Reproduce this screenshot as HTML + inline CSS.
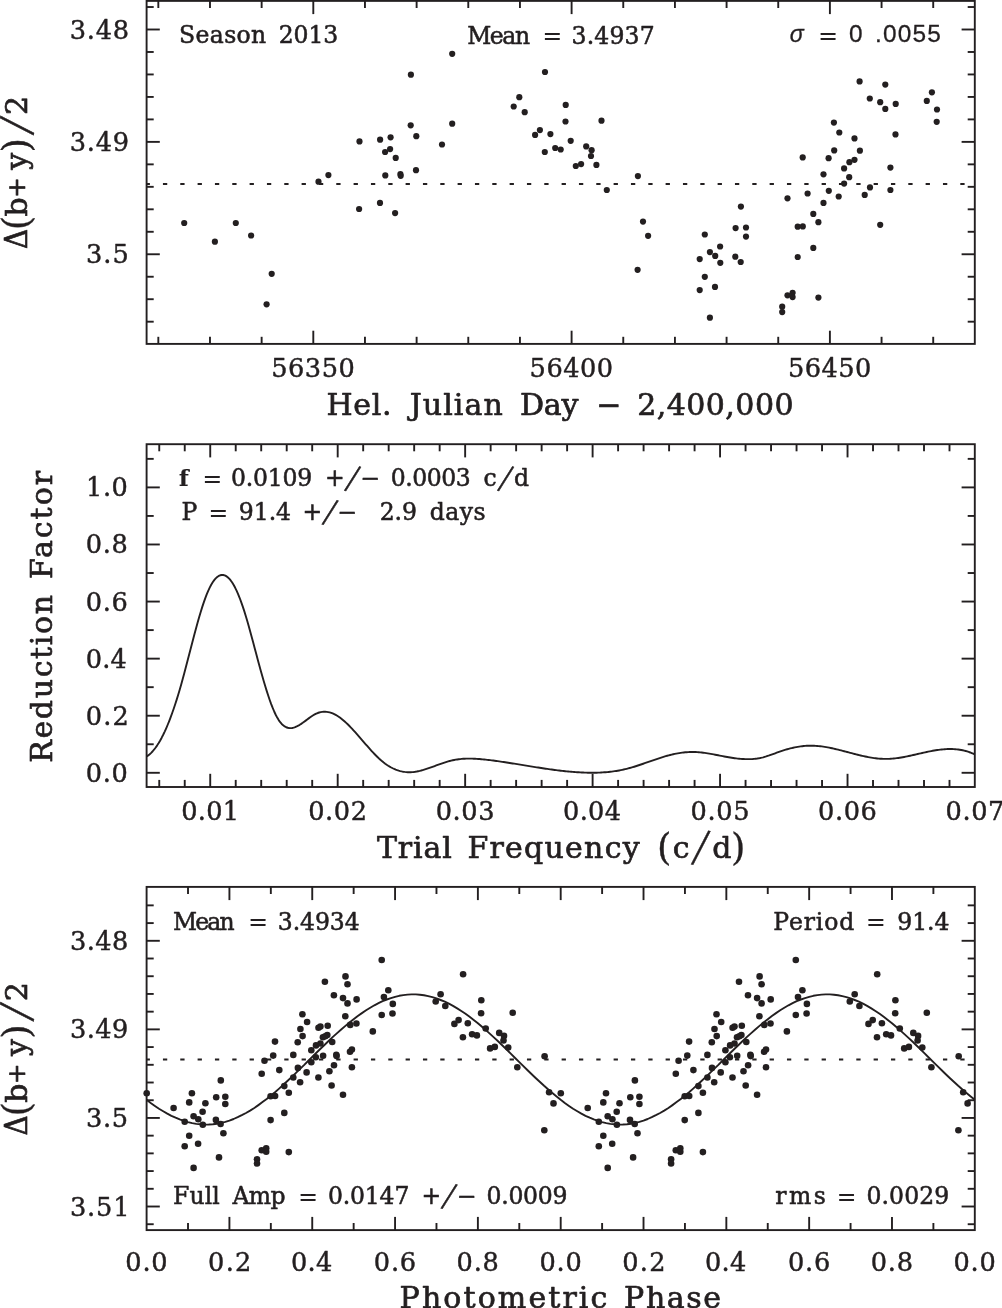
<!DOCTYPE html>
<html lang="en"><head><meta charset="utf-8"><title>Photometry</title>
<style>
html,body{margin:0;padding:0;background:#fff;overflow:hidden;}
svg{display:block;}
</style></head>
<body>
<svg width="1002" height="1308" viewBox="0 0 1002 1308">
<rect width="1002" height="1308" fill="#fff"/>
<g stroke="#231f20" fill="#231f20" stroke-linecap="butt">
<g stroke="none">
<circle cx="184.2" cy="223.0" r="3.1"/>
<circle cx="214.9" cy="241.7" r="3.1"/>
<circle cx="235.8" cy="223.0" r="3.1"/>
<circle cx="251.1" cy="235.5" r="3.1"/>
<circle cx="271.7" cy="273.8" r="3.1"/>
<circle cx="266.6" cy="304.3" r="3.1"/>
<circle cx="318.5" cy="181.7" r="3.1"/>
<circle cx="328.4" cy="175.1" r="3.1"/>
<circle cx="359.5" cy="141.4" r="3.1"/>
<circle cx="359.1" cy="209.0" r="3.1"/>
<circle cx="380.1" cy="139.7" r="3.1"/>
<circle cx="380.0" cy="202.9" r="3.1"/>
<circle cx="385.1" cy="152.0" r="3.1"/>
<circle cx="385.3" cy="175.4" r="3.1"/>
<circle cx="390.6" cy="137.3" r="3.1"/>
<circle cx="390.1" cy="149.1" r="3.1"/>
<circle cx="395.7" cy="157.9" r="3.1"/>
<circle cx="400.4" cy="174.0" r="3.1"/>
<circle cx="400.7" cy="175.8" r="3.1"/>
<circle cx="395.1" cy="213.1" r="3.1"/>
<circle cx="416.0" cy="170.2" r="3.1"/>
<circle cx="410.7" cy="125.3" r="3.1"/>
<circle cx="416.3" cy="136.2" r="3.1"/>
<circle cx="410.9" cy="74.7" r="3.1"/>
<circle cx="442.0" cy="144.5" r="3.1"/>
<circle cx="452.2" cy="123.7" r="3.1"/>
<circle cx="452.2" cy="53.8" r="3.1"/>
<circle cx="513.7" cy="106.5" r="3.1"/>
<circle cx="519.3" cy="97.2" r="3.1"/>
<circle cx="524.7" cy="112.2" r="3.1"/>
<circle cx="535.1" cy="134.9" r="3.1"/>
<circle cx="539.9" cy="130.1" r="3.1"/>
<circle cx="545.0" cy="72.0" r="3.1"/>
<circle cx="544.8" cy="152.0" r="3.1"/>
<circle cx="550.4" cy="134.1" r="3.1"/>
<circle cx="555.2" cy="148.0" r="3.1"/>
<circle cx="560.7" cy="149.5" r="3.1"/>
<circle cx="565.7" cy="104.9" r="3.1"/>
<circle cx="565.5" cy="121.5" r="3.1"/>
<circle cx="570.7" cy="140.8" r="3.1"/>
<circle cx="575.8" cy="166.0" r="3.1"/>
<circle cx="581.1" cy="164.1" r="3.1"/>
<circle cx="586.2" cy="146.4" r="3.1"/>
<circle cx="591.6" cy="150.2" r="3.1"/>
<circle cx="591.0" cy="156.0" r="3.1"/>
<circle cx="596.4" cy="164.9" r="3.1"/>
<circle cx="601.5" cy="120.7" r="3.1"/>
<circle cx="606.8" cy="190.0" r="3.1"/>
<circle cx="637.9" cy="176.1" r="3.1"/>
<circle cx="643.0" cy="221.6" r="3.1"/>
<circle cx="648.1" cy="235.8" r="3.1"/>
<circle cx="637.6" cy="269.8" r="3.1"/>
<circle cx="699.7" cy="259.1" r="3.1"/>
<circle cx="699.7" cy="290.1" r="3.1"/>
<circle cx="704.8" cy="234.5" r="3.1"/>
<circle cx="704.8" cy="276.8" r="3.1"/>
<circle cx="709.9" cy="252.1" r="3.1"/>
<circle cx="709.9" cy="317.7" r="3.1"/>
<circle cx="715.2" cy="255.9" r="3.1"/>
<circle cx="715.0" cy="286.9" r="3.1"/>
<circle cx="720.1" cy="246.5" r="3.1"/>
<circle cx="720.3" cy="262.8" r="3.1"/>
<circle cx="735.6" cy="228.1" r="3.1"/>
<circle cx="735.3" cy="256.7" r="3.1"/>
<circle cx="740.9" cy="206.6" r="3.1"/>
<circle cx="740.7" cy="262.0" r="3.1"/>
<circle cx="746.0" cy="227.5" r="3.1"/>
<circle cx="746.0" cy="236.6" r="3.1"/>
<circle cx="782.2" cy="306.7" r="3.1"/>
<circle cx="782.2" cy="312.1" r="3.1"/>
<circle cx="787.5" cy="198.3" r="3.1"/>
<circle cx="787.5" cy="295.3" r="3.1"/>
<circle cx="792.6" cy="292.8" r="3.1"/>
<circle cx="792.6" cy="297.1" r="3.1"/>
<circle cx="797.7" cy="226.7" r="3.1"/>
<circle cx="797.7" cy="257.0" r="3.1"/>
<circle cx="802.8" cy="226.4" r="3.1"/>
<circle cx="802.7" cy="157.4" r="3.1"/>
<circle cx="807.6" cy="193.5" r="3.1"/>
<circle cx="813.3" cy="213.9" r="3.1"/>
<circle cx="813.3" cy="247.9" r="3.1"/>
<circle cx="818.4" cy="222.2" r="3.1"/>
<circle cx="818.4" cy="297.6" r="3.1"/>
<circle cx="823.5" cy="174.3" r="3.1"/>
<circle cx="823.5" cy="202.9" r="3.1"/>
<circle cx="828.6" cy="158.2" r="3.1"/>
<circle cx="828.8" cy="190.8" r="3.1"/>
<circle cx="833.9" cy="122.6" r="3.1"/>
<circle cx="834.2" cy="150.4" r="3.1"/>
<circle cx="839.3" cy="132.5" r="3.1"/>
<circle cx="838.7" cy="196.5" r="3.1"/>
<circle cx="844.1" cy="168.4" r="3.1"/>
<circle cx="844.1" cy="183.6" r="3.1"/>
<circle cx="849.4" cy="162.2" r="3.1"/>
<circle cx="849.2" cy="177.2" r="3.1"/>
<circle cx="854.5" cy="138.4" r="3.1"/>
<circle cx="854.5" cy="159.8" r="3.1"/>
<circle cx="859.6" cy="81.4" r="3.1"/>
<circle cx="859.9" cy="150.7" r="3.1"/>
<circle cx="864.7" cy="194.9" r="3.1"/>
<circle cx="869.8" cy="98.5" r="3.1"/>
<circle cx="870.0" cy="187.4" r="3.1"/>
<circle cx="880.2" cy="102.2" r="3.1"/>
<circle cx="880.2" cy="224.8" r="3.1"/>
<circle cx="885.3" cy="84.6" r="3.1"/>
<circle cx="885.3" cy="108.9" r="3.1"/>
<circle cx="890.4" cy="167.6" r="3.1"/>
<circle cx="890.4" cy="190.0" r="3.1"/>
<circle cx="895.7" cy="103.9" r="3.1"/>
<circle cx="895.5" cy="134.4" r="3.1"/>
<circle cx="926.8" cy="100.9" r="3.1"/>
<circle cx="931.9" cy="92.3" r="3.1"/>
<circle cx="937.0" cy="109.5" r="3.1"/>
<circle cx="936.7" cy="121.8" r="3.1"/>
<circle cx="146.7" cy="1093.3" r="3.3000000000000003"/>
<circle cx="560.8" cy="1093.3" r="3.3000000000000003"/>
<circle cx="173.6" cy="1108.0" r="3.3000000000000003"/>
<circle cx="587.7" cy="1108.0" r="3.3000000000000003"/>
<circle cx="191.9" cy="1093.3" r="3.3000000000000003"/>
<circle cx="606.0" cy="1093.3" r="3.3000000000000003"/>
<circle cx="205.4" cy="1103.2" r="3.3000000000000003"/>
<circle cx="619.5" cy="1103.2" r="3.3000000000000003"/>
<circle cx="223.4" cy="1133.3" r="3.3000000000000003"/>
<circle cx="637.5" cy="1133.3" r="3.3000000000000003"/>
<circle cx="219.0" cy="1157.4" r="3.3000000000000003"/>
<circle cx="633.1" cy="1157.4" r="3.3000000000000003"/>
<circle cx="264.5" cy="1060.8" r="3.3000000000000003"/>
<circle cx="678.6" cy="1060.8" r="3.3000000000000003"/>
<circle cx="273.2" cy="1055.6" r="3.3000000000000003"/>
<circle cx="687.3" cy="1055.6" r="3.3000000000000003"/>
<circle cx="300.4" cy="1029.0" r="3.3000000000000003"/>
<circle cx="714.5" cy="1029.0" r="3.3000000000000003"/>
<circle cx="300.1" cy="1082.3" r="3.3000000000000003"/>
<circle cx="714.2" cy="1082.3" r="3.3000000000000003"/>
<circle cx="318.5" cy="1027.7" r="3.3000000000000003"/>
<circle cx="732.6" cy="1027.7" r="3.3000000000000003"/>
<circle cx="318.4" cy="1077.5" r="3.3000000000000003"/>
<circle cx="732.5" cy="1077.5" r="3.3000000000000003"/>
<circle cx="322.9" cy="1037.3" r="3.3000000000000003"/>
<circle cx="737.0" cy="1037.3" r="3.3000000000000003"/>
<circle cx="323.1" cy="1055.8" r="3.3000000000000003"/>
<circle cx="737.2" cy="1055.8" r="3.3000000000000003"/>
<circle cx="327.7" cy="1025.8" r="3.3000000000000003"/>
<circle cx="741.8" cy="1025.8" r="3.3000000000000003"/>
<circle cx="327.3" cy="1035.1" r="3.3000000000000003"/>
<circle cx="741.4" cy="1035.1" r="3.3000000000000003"/>
<circle cx="332.2" cy="1042.0" r="3.3000000000000003"/>
<circle cx="746.3" cy="1042.0" r="3.3000000000000003"/>
<circle cx="336.3" cy="1054.7" r="3.3000000000000003"/>
<circle cx="750.4" cy="1054.7" r="3.3000000000000003"/>
<circle cx="336.6" cy="1056.1" r="3.3000000000000003"/>
<circle cx="750.7" cy="1056.1" r="3.3000000000000003"/>
<circle cx="331.6" cy="1085.5" r="3.3000000000000003"/>
<circle cx="745.7" cy="1085.5" r="3.3000000000000003"/>
<circle cx="350.0" cy="1051.7" r="3.3000000000000003"/>
<circle cx="764.1" cy="1051.7" r="3.3000000000000003"/>
<circle cx="345.3" cy="1016.3" r="3.3000000000000003"/>
<circle cx="759.4" cy="1016.3" r="3.3000000000000003"/>
<circle cx="350.2" cy="1024.9" r="3.3000000000000003"/>
<circle cx="764.3" cy="1024.9" r="3.3000000000000003"/>
<circle cx="345.5" cy="976.4" r="3.3000000000000003"/>
<circle cx="759.6" cy="976.4" r="3.3000000000000003"/>
<circle cx="372.8" cy="1031.4" r="3.3000000000000003"/>
<circle cx="786.9" cy="1031.4" r="3.3000000000000003"/>
<circle cx="381.7" cy="1015.0" r="3.3000000000000003"/>
<circle cx="795.8" cy="1015.0" r="3.3000000000000003"/>
<circle cx="381.7" cy="960.0" r="3.3000000000000003"/>
<circle cx="795.8" cy="960.0" r="3.3000000000000003"/>
<circle cx="435.7" cy="1001.5" r="3.3000000000000003"/>
<circle cx="849.8" cy="1001.5" r="3.3000000000000003"/>
<circle cx="440.6" cy="994.2" r="3.3000000000000003"/>
<circle cx="854.7" cy="994.2" r="3.3000000000000003"/>
<circle cx="445.3" cy="1006.0" r="3.3000000000000003"/>
<circle cx="859.4" cy="1006.0" r="3.3000000000000003"/>
<circle cx="454.4" cy="1023.9" r="3.3000000000000003"/>
<circle cx="868.5" cy="1023.9" r="3.3000000000000003"/>
<circle cx="458.6" cy="1020.1" r="3.3000000000000003"/>
<circle cx="872.7" cy="1020.1" r="3.3000000000000003"/>
<circle cx="463.1" cy="974.3" r="3.3000000000000003"/>
<circle cx="877.2" cy="974.3" r="3.3000000000000003"/>
<circle cx="462.9" cy="1037.3" r="3.3000000000000003"/>
<circle cx="877.0" cy="1037.3" r="3.3000000000000003"/>
<circle cx="467.8" cy="1023.2" r="3.3000000000000003"/>
<circle cx="881.9" cy="1023.2" r="3.3000000000000003"/>
<circle cx="472.1" cy="1034.2" r="3.3000000000000003"/>
<circle cx="886.2" cy="1034.2" r="3.3000000000000003"/>
<circle cx="476.9" cy="1035.4" r="3.3000000000000003"/>
<circle cx="891.0" cy="1035.4" r="3.3000000000000003"/>
<circle cx="481.3" cy="1000.2" r="3.3000000000000003"/>
<circle cx="895.4" cy="1000.2" r="3.3000000000000003"/>
<circle cx="481.1" cy="1013.3" r="3.3000000000000003"/>
<circle cx="895.2" cy="1013.3" r="3.3000000000000003"/>
<circle cx="485.7" cy="1028.5" r="3.3000000000000003"/>
<circle cx="899.8" cy="1028.5" r="3.3000000000000003"/>
<circle cx="490.1" cy="1048.4" r="3.3000000000000003"/>
<circle cx="904.2" cy="1048.4" r="3.3000000000000003"/>
<circle cx="494.8" cy="1046.9" r="3.3000000000000003"/>
<circle cx="908.9" cy="1046.9" r="3.3000000000000003"/>
<circle cx="499.2" cy="1032.9" r="3.3000000000000003"/>
<circle cx="913.3" cy="1032.9" r="3.3000000000000003"/>
<circle cx="504.0" cy="1035.9" r="3.3000000000000003"/>
<circle cx="918.1" cy="1035.9" r="3.3000000000000003"/>
<circle cx="503.5" cy="1040.5" r="3.3000000000000003"/>
<circle cx="917.6" cy="1040.5" r="3.3000000000000003"/>
<circle cx="508.2" cy="1047.5" r="3.3000000000000003"/>
<circle cx="922.3" cy="1047.5" r="3.3000000000000003"/>
<circle cx="512.7" cy="1012.7" r="3.3000000000000003"/>
<circle cx="926.8" cy="1012.7" r="3.3000000000000003"/>
<circle cx="517.3" cy="1067.3" r="3.3000000000000003"/>
<circle cx="931.4" cy="1067.3" r="3.3000000000000003"/>
<circle cx="544.6" cy="1056.3" r="3.3000000000000003"/>
<circle cx="958.7" cy="1056.3" r="3.3000000000000003"/>
<circle cx="549.1" cy="1092.2" r="3.3000000000000003"/>
<circle cx="963.2" cy="1092.2" r="3.3000000000000003"/>
<circle cx="553.5" cy="1103.4" r="3.3000000000000003"/>
<circle cx="967.6" cy="1103.4" r="3.3000000000000003"/>
<circle cx="544.3" cy="1130.2" r="3.3000000000000003"/>
<circle cx="958.4" cy="1130.2" r="3.3000000000000003"/>
<circle cx="184.7" cy="1121.8" r="3.3000000000000003"/>
<circle cx="598.8" cy="1121.8" r="3.3000000000000003"/>
<circle cx="184.7" cy="1146.2" r="3.3000000000000003"/>
<circle cx="598.8" cy="1146.2" r="3.3000000000000003"/>
<circle cx="189.2" cy="1102.4" r="3.3000000000000003"/>
<circle cx="603.3" cy="1102.4" r="3.3000000000000003"/>
<circle cx="189.2" cy="1135.7" r="3.3000000000000003"/>
<circle cx="603.3" cy="1135.7" r="3.3000000000000003"/>
<circle cx="193.6" cy="1116.2" r="3.3000000000000003"/>
<circle cx="607.7" cy="1116.2" r="3.3000000000000003"/>
<circle cx="193.6" cy="1167.9" r="3.3000000000000003"/>
<circle cx="607.7" cy="1167.9" r="3.3000000000000003"/>
<circle cx="198.3" cy="1119.2" r="3.3000000000000003"/>
<circle cx="612.4" cy="1119.2" r="3.3000000000000003"/>
<circle cx="198.1" cy="1143.7" r="3.3000000000000003"/>
<circle cx="612.2" cy="1143.7" r="3.3000000000000003"/>
<circle cx="202.6" cy="1111.8" r="3.3000000000000003"/>
<circle cx="616.7" cy="1111.8" r="3.3000000000000003"/>
<circle cx="202.8" cy="1124.7" r="3.3000000000000003"/>
<circle cx="616.9" cy="1124.7" r="3.3000000000000003"/>
<circle cx="216.2" cy="1097.3" r="3.3000000000000003"/>
<circle cx="630.3" cy="1097.3" r="3.3000000000000003"/>
<circle cx="215.9" cy="1119.9" r="3.3000000000000003"/>
<circle cx="630.0" cy="1119.9" r="3.3000000000000003"/>
<circle cx="220.8" cy="1080.4" r="3.3000000000000003"/>
<circle cx="634.9" cy="1080.4" r="3.3000000000000003"/>
<circle cx="220.6" cy="1124.0" r="3.3000000000000003"/>
<circle cx="634.7" cy="1124.0" r="3.3000000000000003"/>
<circle cx="225.3" cy="1096.8" r="3.3000000000000003"/>
<circle cx="639.4" cy="1096.8" r="3.3000000000000003"/>
<circle cx="225.3" cy="1104.0" r="3.3000000000000003"/>
<circle cx="639.4" cy="1104.0" r="3.3000000000000003"/>
<circle cx="257.0" cy="1159.3" r="3.3000000000000003"/>
<circle cx="671.1" cy="1159.3" r="3.3000000000000003"/>
<circle cx="257.0" cy="1163.5" r="3.3000000000000003"/>
<circle cx="671.1" cy="1163.5" r="3.3000000000000003"/>
<circle cx="261.7" cy="1073.8" r="3.3000000000000003"/>
<circle cx="675.8" cy="1073.8" r="3.3000000000000003"/>
<circle cx="261.7" cy="1150.3" r="3.3000000000000003"/>
<circle cx="675.8" cy="1150.3" r="3.3000000000000003"/>
<circle cx="266.2" cy="1148.3" r="3.3000000000000003"/>
<circle cx="680.3" cy="1148.3" r="3.3000000000000003"/>
<circle cx="266.2" cy="1151.7" r="3.3000000000000003"/>
<circle cx="680.3" cy="1151.7" r="3.3000000000000003"/>
<circle cx="270.6" cy="1096.2" r="3.3000000000000003"/>
<circle cx="684.7" cy="1096.2" r="3.3000000000000003"/>
<circle cx="270.6" cy="1120.1" r="3.3000000000000003"/>
<circle cx="684.7" cy="1120.1" r="3.3000000000000003"/>
<circle cx="275.1" cy="1096.0" r="3.3000000000000003"/>
<circle cx="689.2" cy="1096.0" r="3.3000000000000003"/>
<circle cx="275.0" cy="1041.6" r="3.3000000000000003"/>
<circle cx="689.1" cy="1041.6" r="3.3000000000000003"/>
<circle cx="279.3" cy="1070.1" r="3.3000000000000003"/>
<circle cx="693.4" cy="1070.1" r="3.3000000000000003"/>
<circle cx="284.3" cy="1086.1" r="3.3000000000000003"/>
<circle cx="698.4" cy="1086.1" r="3.3000000000000003"/>
<circle cx="284.3" cy="1112.9" r="3.3000000000000003"/>
<circle cx="698.4" cy="1112.9" r="3.3000000000000003"/>
<circle cx="288.8" cy="1092.7" r="3.3000000000000003"/>
<circle cx="702.9" cy="1092.7" r="3.3000000000000003"/>
<circle cx="288.8" cy="1152.1" r="3.3000000000000003"/>
<circle cx="702.9" cy="1152.1" r="3.3000000000000003"/>
<circle cx="293.3" cy="1054.9" r="3.3000000000000003"/>
<circle cx="707.4" cy="1054.9" r="3.3000000000000003"/>
<circle cx="293.3" cy="1077.5" r="3.3000000000000003"/>
<circle cx="707.4" cy="1077.5" r="3.3000000000000003"/>
<circle cx="297.7" cy="1042.2" r="3.3000000000000003"/>
<circle cx="711.8" cy="1042.2" r="3.3000000000000003"/>
<circle cx="297.9" cy="1067.9" r="3.3000000000000003"/>
<circle cx="712.0" cy="1067.9" r="3.3000000000000003"/>
<circle cx="302.4" cy="1014.2" r="3.3000000000000003"/>
<circle cx="716.5" cy="1014.2" r="3.3000000000000003"/>
<circle cx="302.6" cy="1036.1" r="3.3000000000000003"/>
<circle cx="716.7" cy="1036.1" r="3.3000000000000003"/>
<circle cx="307.1" cy="1022.0" r="3.3000000000000003"/>
<circle cx="721.2" cy="1022.0" r="3.3000000000000003"/>
<circle cx="306.6" cy="1072.4" r="3.3000000000000003"/>
<circle cx="720.7" cy="1072.4" r="3.3000000000000003"/>
<circle cx="311.3" cy="1050.3" r="3.3000000000000003"/>
<circle cx="725.4" cy="1050.3" r="3.3000000000000003"/>
<circle cx="311.3" cy="1062.3" r="3.3000000000000003"/>
<circle cx="725.4" cy="1062.3" r="3.3000000000000003"/>
<circle cx="316.0" cy="1045.4" r="3.3000000000000003"/>
<circle cx="730.1" cy="1045.4" r="3.3000000000000003"/>
<circle cx="315.8" cy="1057.2" r="3.3000000000000003"/>
<circle cx="729.9" cy="1057.2" r="3.3000000000000003"/>
<circle cx="320.4" cy="1026.6" r="3.3000000000000003"/>
<circle cx="734.5" cy="1026.6" r="3.3000000000000003"/>
<circle cx="320.4" cy="1043.5" r="3.3000000000000003"/>
<circle cx="734.5" cy="1043.5" r="3.3000000000000003"/>
<circle cx="324.9" cy="981.7" r="3.3000000000000003"/>
<circle cx="739.0" cy="981.7" r="3.3000000000000003"/>
<circle cx="325.2" cy="1036.3" r="3.3000000000000003"/>
<circle cx="739.3" cy="1036.3" r="3.3000000000000003"/>
<circle cx="329.4" cy="1071.2" r="3.3000000000000003"/>
<circle cx="743.5" cy="1071.2" r="3.3000000000000003"/>
<circle cx="333.9" cy="995.2" r="3.3000000000000003"/>
<circle cx="748.0" cy="995.2" r="3.3000000000000003"/>
<circle cx="334.0" cy="1065.2" r="3.3000000000000003"/>
<circle cx="748.1" cy="1065.2" r="3.3000000000000003"/>
<circle cx="343.0" cy="998.1" r="3.3000000000000003"/>
<circle cx="757.1" cy="998.1" r="3.3000000000000003"/>
<circle cx="343.0" cy="1094.7" r="3.3000000000000003"/>
<circle cx="757.1" cy="1094.7" r="3.3000000000000003"/>
<circle cx="347.5" cy="984.2" r="3.3000000000000003"/>
<circle cx="761.6" cy="984.2" r="3.3000000000000003"/>
<circle cx="347.5" cy="1003.4" r="3.3000000000000003"/>
<circle cx="761.6" cy="1003.4" r="3.3000000000000003"/>
<circle cx="351.9" cy="1049.6" r="3.3000000000000003"/>
<circle cx="766.0" cy="1049.6" r="3.3000000000000003"/>
<circle cx="351.9" cy="1067.3" r="3.3000000000000003"/>
<circle cx="766.0" cy="1067.3" r="3.3000000000000003"/>
<circle cx="356.6" cy="999.4" r="3.3000000000000003"/>
<circle cx="770.7" cy="999.4" r="3.3000000000000003"/>
<circle cx="356.4" cy="1023.5" r="3.3000000000000003"/>
<circle cx="770.5" cy="1023.5" r="3.3000000000000003"/>
<circle cx="383.9" cy="997.1" r="3.3000000000000003"/>
<circle cx="798.0" cy="997.1" r="3.3000000000000003"/>
<circle cx="388.3" cy="990.3" r="3.3000000000000003"/>
<circle cx="802.4" cy="990.3" r="3.3000000000000003"/>
<circle cx="392.8" cy="1003.9" r="3.3000000000000003"/>
<circle cx="806.9" cy="1003.9" r="3.3000000000000003"/>
<circle cx="392.5" cy="1013.5" r="3.3000000000000003"/>
<circle cx="806.6" cy="1013.5" r="3.3000000000000003"/>
</g>
<rect x="146.60" y="0.90" width="828.20" height="343.00" fill="none" stroke-width="1.9"/>
<line x1="158.32" y1="343.90" x2="158.32" y2="336.80" stroke-width="1.9" />
<line x1="158.32" y1="0.90" x2="158.32" y2="8.00" stroke-width="1.9" />
<line x1="209.98" y1="343.90" x2="209.98" y2="336.80" stroke-width="1.9" />
<line x1="209.98" y1="0.90" x2="209.98" y2="8.00" stroke-width="1.9" />
<line x1="261.64" y1="343.90" x2="261.64" y2="336.80" stroke-width="1.9" />
<line x1="261.64" y1="0.90" x2="261.64" y2="8.00" stroke-width="1.9" />
<line x1="313.30" y1="343.90" x2="313.30" y2="330.70" stroke-width="1.9" />
<line x1="313.30" y1="0.90" x2="313.30" y2="14.10" stroke-width="1.9" />
<line x1="364.96" y1="343.90" x2="364.96" y2="336.80" stroke-width="1.9" />
<line x1="364.96" y1="0.90" x2="364.96" y2="8.00" stroke-width="1.9" />
<line x1="416.62" y1="343.90" x2="416.62" y2="336.80" stroke-width="1.9" />
<line x1="416.62" y1="0.90" x2="416.62" y2="8.00" stroke-width="1.9" />
<line x1="468.28" y1="343.90" x2="468.28" y2="336.80" stroke-width="1.9" />
<line x1="468.28" y1="0.90" x2="468.28" y2="8.00" stroke-width="1.9" />
<line x1="519.94" y1="343.90" x2="519.94" y2="336.80" stroke-width="1.9" />
<line x1="519.94" y1="0.90" x2="519.94" y2="8.00" stroke-width="1.9" />
<line x1="571.60" y1="343.90" x2="571.60" y2="330.70" stroke-width="1.9" />
<line x1="571.60" y1="0.90" x2="571.60" y2="14.10" stroke-width="1.9" />
<line x1="623.26" y1="343.90" x2="623.26" y2="336.80" stroke-width="1.9" />
<line x1="623.26" y1="0.90" x2="623.26" y2="8.00" stroke-width="1.9" />
<line x1="674.92" y1="343.90" x2="674.92" y2="336.80" stroke-width="1.9" />
<line x1="674.92" y1="0.90" x2="674.92" y2="8.00" stroke-width="1.9" />
<line x1="726.58" y1="343.90" x2="726.58" y2="336.80" stroke-width="1.9" />
<line x1="726.58" y1="0.90" x2="726.58" y2="8.00" stroke-width="1.9" />
<line x1="778.24" y1="343.90" x2="778.24" y2="336.80" stroke-width="1.9" />
<line x1="778.24" y1="0.90" x2="778.24" y2="8.00" stroke-width="1.9" />
<line x1="829.90" y1="343.90" x2="829.90" y2="330.70" stroke-width="1.9" />
<line x1="829.90" y1="0.90" x2="829.90" y2="14.10" stroke-width="1.9" />
<line x1="881.56" y1="343.90" x2="881.56" y2="336.80" stroke-width="1.9" />
<line x1="881.56" y1="0.90" x2="881.56" y2="8.00" stroke-width="1.9" />
<line x1="933.22" y1="343.90" x2="933.22" y2="336.80" stroke-width="1.9" />
<line x1="933.22" y1="0.90" x2="933.22" y2="8.00" stroke-width="1.9" />
<line x1="146.60" y1="7.02" x2="153.70" y2="7.02" stroke-width="1.9" />
<line x1="974.80" y1="7.02" x2="967.70" y2="7.02" stroke-width="1.9" />
<line x1="146.60" y1="29.50" x2="159.80" y2="29.50" stroke-width="1.9" />
<line x1="974.80" y1="29.50" x2="961.60" y2="29.50" stroke-width="1.9" />
<line x1="146.60" y1="51.98" x2="153.70" y2="51.98" stroke-width="1.9" />
<line x1="974.80" y1="51.98" x2="967.70" y2="51.98" stroke-width="1.9" />
<line x1="146.60" y1="74.45" x2="153.70" y2="74.45" stroke-width="1.9" />
<line x1="974.80" y1="74.45" x2="967.70" y2="74.45" stroke-width="1.9" />
<line x1="146.60" y1="96.93" x2="153.70" y2="96.93" stroke-width="1.9" />
<line x1="974.80" y1="96.93" x2="967.70" y2="96.93" stroke-width="1.9" />
<line x1="146.60" y1="119.40" x2="153.70" y2="119.40" stroke-width="1.9" />
<line x1="974.80" y1="119.40" x2="967.70" y2="119.40" stroke-width="1.9" />
<line x1="146.60" y1="141.88" x2="159.80" y2="141.88" stroke-width="1.9" />
<line x1="974.80" y1="141.88" x2="961.60" y2="141.88" stroke-width="1.9" />
<line x1="146.60" y1="164.36" x2="153.70" y2="164.36" stroke-width="1.9" />
<line x1="974.80" y1="164.36" x2="967.70" y2="164.36" stroke-width="1.9" />
<line x1="146.60" y1="186.83" x2="153.70" y2="186.83" stroke-width="1.9" />
<line x1="974.80" y1="186.83" x2="967.70" y2="186.83" stroke-width="1.9" />
<line x1="146.60" y1="209.31" x2="153.70" y2="209.31" stroke-width="1.9" />
<line x1="974.80" y1="209.31" x2="967.70" y2="209.31" stroke-width="1.9" />
<line x1="146.60" y1="231.78" x2="153.70" y2="231.78" stroke-width="1.9" />
<line x1="974.80" y1="231.78" x2="967.70" y2="231.78" stroke-width="1.9" />
<line x1="146.60" y1="254.26" x2="159.80" y2="254.26" stroke-width="1.9" />
<line x1="974.80" y1="254.26" x2="961.60" y2="254.26" stroke-width="1.9" />
<line x1="146.60" y1="276.74" x2="153.70" y2="276.74" stroke-width="1.9" />
<line x1="974.80" y1="276.74" x2="967.70" y2="276.74" stroke-width="1.9" />
<line x1="146.60" y1="299.21" x2="153.70" y2="299.21" stroke-width="1.9" />
<line x1="974.80" y1="299.21" x2="967.70" y2="299.21" stroke-width="1.9" />
<line x1="146.60" y1="321.69" x2="153.70" y2="321.69" stroke-width="1.9" />
<line x1="974.80" y1="321.69" x2="967.70" y2="321.69" stroke-width="1.9" />
<line x1="146.60" y1="183.90" x2="974.80" y2="183.90" stroke-width="2.0" stroke-dasharray="4.3 13.034" stroke-dashoffset="1.0"/>
<rect x="146.60" y="444.20" width="828.20" height="342.80" fill="none" stroke-width="1.9"/>
<line x1="159.25" y1="787.00" x2="159.25" y2="779.90" stroke-width="1.9" />
<line x1="159.25" y1="444.20" x2="159.25" y2="451.30" stroke-width="1.9" />
<line x1="184.74" y1="787.00" x2="184.74" y2="779.90" stroke-width="1.9" />
<line x1="184.74" y1="444.20" x2="184.74" y2="451.30" stroke-width="1.9" />
<line x1="210.23" y1="787.00" x2="210.23" y2="773.80" stroke-width="1.9" />
<line x1="210.23" y1="444.20" x2="210.23" y2="457.40" stroke-width="1.9" />
<line x1="235.72" y1="787.00" x2="235.72" y2="779.90" stroke-width="1.9" />
<line x1="235.72" y1="444.20" x2="235.72" y2="451.30" stroke-width="1.9" />
<line x1="261.21" y1="787.00" x2="261.21" y2="779.90" stroke-width="1.9" />
<line x1="261.21" y1="444.20" x2="261.21" y2="451.30" stroke-width="1.9" />
<line x1="286.71" y1="787.00" x2="286.71" y2="779.90" stroke-width="1.9" />
<line x1="286.71" y1="444.20" x2="286.71" y2="451.30" stroke-width="1.9" />
<line x1="312.20" y1="787.00" x2="312.20" y2="779.90" stroke-width="1.9" />
<line x1="312.20" y1="444.20" x2="312.20" y2="451.30" stroke-width="1.9" />
<line x1="337.69" y1="787.00" x2="337.69" y2="773.80" stroke-width="1.9" />
<line x1="337.69" y1="444.20" x2="337.69" y2="457.40" stroke-width="1.9" />
<line x1="363.18" y1="787.00" x2="363.18" y2="779.90" stroke-width="1.9" />
<line x1="363.18" y1="444.20" x2="363.18" y2="451.30" stroke-width="1.9" />
<line x1="388.67" y1="787.00" x2="388.67" y2="779.90" stroke-width="1.9" />
<line x1="388.67" y1="444.20" x2="388.67" y2="451.30" stroke-width="1.9" />
<line x1="414.17" y1="787.00" x2="414.17" y2="779.90" stroke-width="1.9" />
<line x1="414.17" y1="444.20" x2="414.17" y2="451.30" stroke-width="1.9" />
<line x1="439.66" y1="787.00" x2="439.66" y2="779.90" stroke-width="1.9" />
<line x1="439.66" y1="444.20" x2="439.66" y2="451.30" stroke-width="1.9" />
<line x1="465.15" y1="787.00" x2="465.15" y2="773.80" stroke-width="1.9" />
<line x1="465.15" y1="444.20" x2="465.15" y2="457.40" stroke-width="1.9" />
<line x1="490.64" y1="787.00" x2="490.64" y2="779.90" stroke-width="1.9" />
<line x1="490.64" y1="444.20" x2="490.64" y2="451.30" stroke-width="1.9" />
<line x1="516.13" y1="787.00" x2="516.13" y2="779.90" stroke-width="1.9" />
<line x1="516.13" y1="444.20" x2="516.13" y2="451.30" stroke-width="1.9" />
<line x1="541.63" y1="787.00" x2="541.63" y2="779.90" stroke-width="1.9" />
<line x1="541.63" y1="444.20" x2="541.63" y2="451.30" stroke-width="1.9" />
<line x1="567.12" y1="787.00" x2="567.12" y2="779.90" stroke-width="1.9" />
<line x1="567.12" y1="444.20" x2="567.12" y2="451.30" stroke-width="1.9" />
<line x1="592.61" y1="787.00" x2="592.61" y2="773.80" stroke-width="1.9" />
<line x1="592.61" y1="444.20" x2="592.61" y2="457.40" stroke-width="1.9" />
<line x1="618.10" y1="787.00" x2="618.10" y2="779.90" stroke-width="1.9" />
<line x1="618.10" y1="444.20" x2="618.10" y2="451.30" stroke-width="1.9" />
<line x1="643.59" y1="787.00" x2="643.59" y2="779.90" stroke-width="1.9" />
<line x1="643.59" y1="444.20" x2="643.59" y2="451.30" stroke-width="1.9" />
<line x1="669.09" y1="787.00" x2="669.09" y2="779.90" stroke-width="1.9" />
<line x1="669.09" y1="444.20" x2="669.09" y2="451.30" stroke-width="1.9" />
<line x1="694.58" y1="787.00" x2="694.58" y2="779.90" stroke-width="1.9" />
<line x1="694.58" y1="444.20" x2="694.58" y2="451.30" stroke-width="1.9" />
<line x1="720.07" y1="787.00" x2="720.07" y2="773.80" stroke-width="1.9" />
<line x1="720.07" y1="444.20" x2="720.07" y2="457.40" stroke-width="1.9" />
<line x1="745.56" y1="787.00" x2="745.56" y2="779.90" stroke-width="1.9" />
<line x1="745.56" y1="444.20" x2="745.56" y2="451.30" stroke-width="1.9" />
<line x1="771.05" y1="787.00" x2="771.05" y2="779.90" stroke-width="1.9" />
<line x1="771.05" y1="444.20" x2="771.05" y2="451.30" stroke-width="1.9" />
<line x1="796.55" y1="787.00" x2="796.55" y2="779.90" stroke-width="1.9" />
<line x1="796.55" y1="444.20" x2="796.55" y2="451.30" stroke-width="1.9" />
<line x1="822.04" y1="787.00" x2="822.04" y2="779.90" stroke-width="1.9" />
<line x1="822.04" y1="444.20" x2="822.04" y2="451.30" stroke-width="1.9" />
<line x1="847.53" y1="787.00" x2="847.53" y2="773.80" stroke-width="1.9" />
<line x1="847.53" y1="444.20" x2="847.53" y2="457.40" stroke-width="1.9" />
<line x1="873.02" y1="787.00" x2="873.02" y2="779.90" stroke-width="1.9" />
<line x1="873.02" y1="444.20" x2="873.02" y2="451.30" stroke-width="1.9" />
<line x1="898.51" y1="787.00" x2="898.51" y2="779.90" stroke-width="1.9" />
<line x1="898.51" y1="444.20" x2="898.51" y2="451.30" stroke-width="1.9" />
<line x1="924.01" y1="787.00" x2="924.01" y2="779.90" stroke-width="1.9" />
<line x1="924.01" y1="444.20" x2="924.01" y2="451.30" stroke-width="1.9" />
<line x1="949.50" y1="787.00" x2="949.50" y2="779.90" stroke-width="1.9" />
<line x1="949.50" y1="444.20" x2="949.50" y2="451.30" stroke-width="1.9" />
<line x1="146.60" y1="772.80" x2="159.80" y2="772.80" stroke-width="1.9" />
<line x1="974.80" y1="772.80" x2="961.60" y2="772.80" stroke-width="1.9" />
<line x1="146.60" y1="744.26" x2="153.70" y2="744.26" stroke-width="1.9" />
<line x1="974.80" y1="744.26" x2="967.70" y2="744.26" stroke-width="1.9" />
<line x1="146.60" y1="715.72" x2="159.80" y2="715.72" stroke-width="1.9" />
<line x1="974.80" y1="715.72" x2="961.60" y2="715.72" stroke-width="1.9" />
<line x1="146.60" y1="687.18" x2="153.70" y2="687.18" stroke-width="1.9" />
<line x1="974.80" y1="687.18" x2="967.70" y2="687.18" stroke-width="1.9" />
<line x1="146.60" y1="658.64" x2="159.80" y2="658.64" stroke-width="1.9" />
<line x1="974.80" y1="658.64" x2="961.60" y2="658.64" stroke-width="1.9" />
<line x1="146.60" y1="630.10" x2="153.70" y2="630.10" stroke-width="1.9" />
<line x1="974.80" y1="630.10" x2="967.70" y2="630.10" stroke-width="1.9" />
<line x1="146.60" y1="601.56" x2="159.80" y2="601.56" stroke-width="1.9" />
<line x1="974.80" y1="601.56" x2="961.60" y2="601.56" stroke-width="1.9" />
<line x1="146.60" y1="573.02" x2="153.70" y2="573.02" stroke-width="1.9" />
<line x1="974.80" y1="573.02" x2="967.70" y2="573.02" stroke-width="1.9" />
<line x1="146.60" y1="544.48" x2="159.80" y2="544.48" stroke-width="1.9" />
<line x1="974.80" y1="544.48" x2="961.60" y2="544.48" stroke-width="1.9" />
<line x1="146.60" y1="515.94" x2="153.70" y2="515.94" stroke-width="1.9" />
<line x1="974.80" y1="515.94" x2="967.70" y2="515.94" stroke-width="1.9" />
<line x1="146.60" y1="487.40" x2="159.80" y2="487.40" stroke-width="1.9" />
<line x1="974.80" y1="487.40" x2="961.60" y2="487.40" stroke-width="1.9" />
<line x1="146.60" y1="458.86" x2="153.70" y2="458.86" stroke-width="1.9" />
<line x1="974.80" y1="458.86" x2="967.70" y2="458.86" stroke-width="1.9" />
<path d="M146.7,756.38 L148.2,755.40 L149.7,754.21 L151.2,752.83 L152.7,751.25 L154.2,749.48 L155.7,747.51 L157.2,745.35 L158.7,742.99 L160.2,740.43 L161.7,737.68 L163.2,734.74 L164.7,731.61 L166.2,728.28 L167.7,724.75 L169.2,721.04 L170.7,717.13 L172.2,713.04 L173.7,708.75 L175.2,704.27 L176.7,699.60 L178.2,694.73 L179.7,689.68 L181.2,684.44 L182.7,679.03 L184.2,673.48 L185.7,667.82 L187.2,662.08 L188.7,656.28 L190.2,650.48 L191.7,644.69 L193.2,638.94 L194.7,633.27 L196.2,627.70 L197.7,622.28 L199.2,617.03 L200.7,611.97 L202.2,607.15 L203.7,602.59 L205.2,598.33 L206.7,594.40 L208.2,590.81 L209.7,587.60 L211.2,584.75 L212.7,582.27 L214.2,580.16 L215.7,578.40 L217.2,577.01 L218.7,575.97 L220.2,575.29 L221.7,574.97 L223.2,575.00 L224.7,575.39 L226.2,576.12 L227.7,577.21 L229.2,578.65 L230.7,580.43 L232.2,582.55 L233.7,585.01 L235.2,587.80 L236.7,590.91 L238.2,594.33 L239.7,598.04 L241.2,602.05 L242.7,606.34 L244.2,610.90 L245.7,615.73 L247.2,620.78 L248.7,626.02 L250.2,631.42 L251.7,636.93 L253.2,642.53 L254.7,648.17 L256.2,653.81 L257.7,659.43 L259.2,664.98 L260.7,670.44 L262.2,675.79 L263.7,680.99 L265.2,686.04 L266.7,690.89 L268.2,695.53 L269.7,699.94 L271.2,704.08 L272.7,707.95 L274.2,711.50 L275.7,714.73 L277.2,717.59 L278.7,720.08 L280.2,722.19 L281.7,723.94 L283.2,725.34 L284.7,726.44 L286.2,727.24 L287.7,727.77 L289.2,728.05 L290.7,728.11 L292.2,727.96 L293.7,727.63 L295.2,727.13 L296.7,726.48 L298.2,725.70 L299.7,724.82 L301.2,723.85 L302.7,722.82 L304.2,721.73 L305.7,720.62 L307.2,719.49 L308.7,718.38 L310.2,717.30 L311.7,716.26 L313.2,715.30 L314.7,714.42 L316.2,713.66 L317.7,713.02 L319.2,712.51 L320.7,712.13 L322.2,711.87 L323.7,711.75 L325.2,711.74 L326.7,711.85 L328.2,712.08 L329.7,712.43 L331.2,712.88 L332.7,713.45 L334.2,714.12 L335.7,714.91 L337.2,715.79 L338.7,716.76 L340.2,717.83 L341.7,718.98 L343.2,720.21 L344.7,721.51 L346.2,722.87 L347.7,724.30 L349.2,725.79 L350.7,727.33 L352.2,728.91 L353.7,730.53 L355.2,732.19 L356.7,733.87 L358.2,735.58 L359.7,737.31 L361.2,739.04 L362.7,740.78 L364.2,742.53 L365.7,744.26 L367.2,745.99 L368.7,747.70 L370.2,749.38 L371.7,751.04 L373.2,752.66 L374.7,754.24 L376.2,755.77 L377.7,757.25 L379.2,758.68 L380.7,760.03 L382.2,761.32 L383.7,762.54 L385.2,763.68 L386.7,764.74 L388.2,765.73 L389.7,766.65 L391.2,767.49 L392.7,768.26 L394.2,768.96 L395.7,769.59 L397.2,770.15 L398.7,770.64 L400.2,771.06 L401.7,771.42 L403.2,771.71 L404.7,771.93 L406.2,772.09 L407.7,772.19 L409.2,772.22 L410.7,772.19 L412.2,772.10 L413.7,771.95 L415.2,771.76 L416.7,771.51 L418.2,771.21 L419.7,770.88 L421.2,770.51 L422.7,770.10 L424.2,769.66 L425.7,769.19 L427.2,768.70 L428.7,768.19 L430.2,767.66 L431.7,767.12 L433.2,766.58 L434.7,766.02 L436.2,765.46 L437.7,764.91 L439.2,764.36 L440.7,763.82 L442.2,763.29 L443.7,762.78 L445.2,762.29 L446.7,761.82 L448.2,761.38 L449.7,760.97 L451.2,760.59 L452.7,760.25 L454.2,759.95 L455.7,759.68 L457.2,759.44 L458.7,759.24 L460.2,759.07 L461.7,758.92 L463.2,758.81 L464.7,758.72 L466.2,758.66 L467.7,758.62 L469.2,758.61 L470.7,758.61 L472.2,758.64 L473.7,758.69 L475.2,758.76 L476.7,758.84 L478.2,758.95 L479.7,759.06 L481.2,759.19 L482.7,759.33 L484.2,759.48 L485.7,759.65 L487.2,759.82 L488.7,760.00 L490.2,760.18 L491.7,760.37 L493.2,760.56 L494.7,760.76 L496.2,760.97 L497.7,761.18 L499.2,761.39 L500.7,761.60 L502.2,761.82 L503.7,762.05 L505.2,762.27 L506.7,762.50 L508.2,762.73 L509.7,762.97 L511.2,763.20 L512.7,763.44 L514.2,763.68 L515.7,763.92 L517.2,764.16 L518.7,764.41 L520.2,764.65 L521.7,764.89 L523.2,765.14 L524.7,765.38 L526.2,765.63 L527.7,765.87 L529.2,766.12 L530.7,766.36 L532.2,766.60 L533.7,766.84 L535.2,767.08 L536.7,767.32 L538.2,767.55 L539.7,767.79 L541.2,768.02 L542.7,768.25 L544.2,768.47 L545.7,768.69 L547.2,768.91 L548.7,769.13 L550.2,769.34 L551.7,769.54 L553.2,769.75 L554.7,769.95 L556.2,770.14 L557.7,770.33 L559.2,770.51 L560.7,770.69 L562.2,770.86 L563.7,771.03 L565.2,771.19 L566.7,771.34 L568.2,771.49 L569.7,771.63 L571.2,771.76 L572.7,771.89 L574.2,772.01 L575.7,772.12 L577.2,772.22 L578.7,772.31 L580.2,772.40 L581.7,772.48 L583.2,772.54 L584.7,772.60 L586.2,772.65 L587.7,772.69 L589.2,772.72 L590.7,772.73 L592.2,772.74 L593.7,772.73 L595.2,772.71 L596.7,772.68 L598.2,772.64 L599.7,772.58 L601.2,772.51 L602.7,772.42 L604.2,772.32 L605.7,772.21 L607.2,772.08 L608.7,771.93 L610.2,771.77 L611.7,771.59 L613.2,771.40 L614.7,771.18 L616.2,770.96 L617.7,770.71 L619.2,770.44 L620.7,770.16 L622.2,769.85 L623.7,769.53 L625.2,769.19 L626.7,768.82 L628.2,768.44 L629.7,768.04 L631.2,767.61 L632.7,767.17 L634.2,766.72 L635.7,766.25 L637.2,765.77 L638.7,765.27 L640.2,764.77 L641.7,764.26 L643.2,763.74 L644.7,763.22 L646.2,762.69 L647.7,762.16 L649.2,761.63 L650.7,761.11 L652.2,760.58 L653.7,760.06 L655.2,759.54 L656.7,759.03 L658.2,758.53 L659.7,758.03 L661.2,757.55 L662.7,757.08 L664.2,756.63 L665.7,756.19 L667.2,755.77 L668.7,755.36 L670.2,754.98 L671.7,754.61 L673.2,754.26 L674.7,753.93 L676.2,753.63 L677.7,753.35 L679.2,753.09 L680.7,752.85 L682.2,752.64 L683.7,752.46 L685.2,752.31 L686.7,752.18 L688.2,752.08 L689.7,752.01 L691.2,751.98 L692.7,751.97 L694.2,752.00 L695.7,752.05 L697.2,752.14 L698.7,752.25 L700.2,752.38 L701.7,752.54 L703.2,752.72 L704.7,752.92 L706.2,753.14 L707.7,753.38 L709.2,753.62 L710.7,753.88 L712.2,754.15 L713.7,754.43 L715.2,754.72 L716.7,755.01 L718.2,755.30 L719.7,755.59 L721.2,755.89 L722.7,756.18 L724.2,756.47 L725.7,756.75 L727.2,757.02 L728.7,757.28 L730.2,757.54 L731.7,757.78 L733.2,758.00 L734.7,758.21 L736.2,758.41 L737.7,758.58 L739.2,758.74 L740.7,758.87 L742.2,758.98 L743.7,759.07 L745.2,759.13 L746.7,759.16 L748.2,759.16 L749.7,759.14 L751.2,759.08 L752.7,758.99 L754.2,758.86 L755.7,758.70 L757.2,758.51 L758.7,758.27 L760.2,757.99 L761.7,757.67 L763.2,757.31 L764.7,756.90 L766.2,756.46 L767.7,755.97 L769.2,755.47 L770.7,754.93 L772.2,754.39 L773.7,753.83 L775.2,753.27 L776.7,752.71 L778.2,752.16 L779.7,751.62 L781.2,751.10 L782.7,750.60 L784.2,750.12 L785.7,749.67 L787.2,749.23 L788.7,748.82 L790.2,748.43 L791.7,748.06 L793.2,747.72 L794.7,747.40 L796.2,747.11 L797.7,746.84 L799.2,746.60 L800.7,746.39 L802.2,746.20 L803.7,746.04 L805.2,745.91 L806.7,745.81 L808.2,745.74 L809.7,745.70 L811.2,745.69 L812.7,745.71 L814.2,745.76 L815.7,745.84 L817.2,745.95 L818.7,746.08 L820.2,746.24 L821.7,746.43 L823.2,746.63 L824.7,746.86 L826.2,747.11 L827.7,747.38 L829.2,747.67 L830.7,747.97 L832.2,748.29 L833.7,748.62 L835.2,748.96 L836.7,749.32 L838.2,749.68 L839.7,750.05 L841.2,750.44 L842.7,750.82 L844.2,751.21 L845.7,751.61 L847.2,752.01 L848.7,752.41 L850.2,752.80 L851.7,753.20 L853.2,753.60 L854.7,753.98 L856.2,754.37 L857.7,754.75 L859.2,755.12 L860.7,755.48 L862.2,755.83 L863.7,756.16 L865.2,756.49 L866.7,756.80 L868.2,757.09 L869.7,757.37 L871.2,757.63 L872.7,757.86 L874.2,758.08 L875.7,758.28 L877.2,758.45 L878.7,758.60 L880.2,758.72 L881.7,758.81 L883.2,758.88 L884.7,758.91 L886.2,758.92 L887.7,758.89 L889.2,758.83 L890.7,758.75 L892.2,758.64 L893.7,758.50 L895.2,758.33 L896.7,758.15 L898.2,757.94 L899.7,757.72 L901.2,757.47 L902.7,757.21 L904.2,756.94 L905.7,756.65 L907.2,756.34 L908.7,756.03 L910.2,755.71 L911.7,755.38 L913.2,755.05 L914.7,754.71 L916.2,754.36 L917.7,754.02 L919.2,753.67 L920.7,753.33 L922.2,752.99 L923.7,752.65 L925.2,752.32 L926.7,751.99 L928.2,751.68 L929.7,751.38 L931.2,751.08 L932.7,750.80 L934.2,750.54 L935.7,750.29 L937.2,750.06 L938.7,749.85 L940.2,749.65 L941.7,749.49 L943.2,749.34 L944.7,749.22 L946.2,749.13 L947.7,749.06 L949.2,749.03 L950.7,749.02 L952.2,749.05 L953.7,749.11 L955.2,749.21 L956.7,749.35 L958.2,749.52 L959.7,749.74 L961.2,749.99 L962.7,750.29 L964.2,750.64 L965.7,751.03 L967.2,751.46 L968.7,751.95 L970.2,752.49 L971.7,753.08 L973.2,753.72 L974.7,754.42" fill="none" stroke-width="1.9" stroke-linejoin="round"/>
<rect x="146.60" y="886.90" width="828.20" height="343.20" fill="none" stroke-width="1.9"/>
<line x1="188.01" y1="1230.10" x2="188.01" y2="1223.00" stroke-width="1.9" />
<line x1="188.01" y1="886.90" x2="188.01" y2="894.00" stroke-width="1.9" />
<line x1="229.42" y1="1230.10" x2="229.42" y2="1216.90" stroke-width="1.9" />
<line x1="229.42" y1="886.90" x2="229.42" y2="900.10" stroke-width="1.9" />
<line x1="270.83" y1="1230.10" x2="270.83" y2="1223.00" stroke-width="1.9" />
<line x1="270.83" y1="886.90" x2="270.83" y2="894.00" stroke-width="1.9" />
<line x1="312.24" y1="1230.10" x2="312.24" y2="1216.90" stroke-width="1.9" />
<line x1="312.24" y1="886.90" x2="312.24" y2="900.10" stroke-width="1.9" />
<line x1="353.65" y1="1230.10" x2="353.65" y2="1223.00" stroke-width="1.9" />
<line x1="353.65" y1="886.90" x2="353.65" y2="894.00" stroke-width="1.9" />
<line x1="395.06" y1="1230.10" x2="395.06" y2="1216.90" stroke-width="1.9" />
<line x1="395.06" y1="886.90" x2="395.06" y2="900.10" stroke-width="1.9" />
<line x1="436.47" y1="1230.10" x2="436.47" y2="1223.00" stroke-width="1.9" />
<line x1="436.47" y1="886.90" x2="436.47" y2="894.00" stroke-width="1.9" />
<line x1="477.88" y1="1230.10" x2="477.88" y2="1216.90" stroke-width="1.9" />
<line x1="477.88" y1="886.90" x2="477.88" y2="900.10" stroke-width="1.9" />
<line x1="519.29" y1="1230.10" x2="519.29" y2="1223.00" stroke-width="1.9" />
<line x1="519.29" y1="886.90" x2="519.29" y2="894.00" stroke-width="1.9" />
<line x1="560.70" y1="1230.10" x2="560.70" y2="1216.90" stroke-width="1.9" />
<line x1="560.70" y1="886.90" x2="560.70" y2="900.10" stroke-width="1.9" />
<line x1="602.11" y1="1230.10" x2="602.11" y2="1223.00" stroke-width="1.9" />
<line x1="602.11" y1="886.90" x2="602.11" y2="894.00" stroke-width="1.9" />
<line x1="643.52" y1="1230.10" x2="643.52" y2="1216.90" stroke-width="1.9" />
<line x1="643.52" y1="886.90" x2="643.52" y2="900.10" stroke-width="1.9" />
<line x1="684.93" y1="1230.10" x2="684.93" y2="1223.00" stroke-width="1.9" />
<line x1="684.93" y1="886.90" x2="684.93" y2="894.00" stroke-width="1.9" />
<line x1="726.34" y1="1230.10" x2="726.34" y2="1216.90" stroke-width="1.9" />
<line x1="726.34" y1="886.90" x2="726.34" y2="900.10" stroke-width="1.9" />
<line x1="767.75" y1="1230.10" x2="767.75" y2="1223.00" stroke-width="1.9" />
<line x1="767.75" y1="886.90" x2="767.75" y2="894.00" stroke-width="1.9" />
<line x1="809.16" y1="1230.10" x2="809.16" y2="1216.90" stroke-width="1.9" />
<line x1="809.16" y1="886.90" x2="809.16" y2="900.10" stroke-width="1.9" />
<line x1="850.57" y1="1230.10" x2="850.57" y2="1223.00" stroke-width="1.9" />
<line x1="850.57" y1="886.90" x2="850.57" y2="894.00" stroke-width="1.9" />
<line x1="891.98" y1="1230.10" x2="891.98" y2="1216.90" stroke-width="1.9" />
<line x1="891.98" y1="886.90" x2="891.98" y2="900.10" stroke-width="1.9" />
<line x1="933.39" y1="1230.10" x2="933.39" y2="1223.00" stroke-width="1.9" />
<line x1="933.39" y1="886.90" x2="933.39" y2="894.00" stroke-width="1.9" />
<line x1="146.60" y1="905.37" x2="153.70" y2="905.37" stroke-width="1.9" />
<line x1="974.80" y1="905.37" x2="967.70" y2="905.37" stroke-width="1.9" />
<line x1="146.60" y1="923.09" x2="153.70" y2="923.09" stroke-width="1.9" />
<line x1="974.80" y1="923.09" x2="967.70" y2="923.09" stroke-width="1.9" />
<line x1="146.60" y1="940.80" x2="159.80" y2="940.80" stroke-width="1.9" />
<line x1="974.80" y1="940.80" x2="961.60" y2="940.80" stroke-width="1.9" />
<line x1="146.60" y1="958.51" x2="153.70" y2="958.51" stroke-width="1.9" />
<line x1="974.80" y1="958.51" x2="967.70" y2="958.51" stroke-width="1.9" />
<line x1="146.60" y1="976.23" x2="153.70" y2="976.23" stroke-width="1.9" />
<line x1="974.80" y1="976.23" x2="967.70" y2="976.23" stroke-width="1.9" />
<line x1="146.60" y1="993.94" x2="153.70" y2="993.94" stroke-width="1.9" />
<line x1="974.80" y1="993.94" x2="967.70" y2="993.94" stroke-width="1.9" />
<line x1="146.60" y1="1011.66" x2="153.70" y2="1011.66" stroke-width="1.9" />
<line x1="974.80" y1="1011.66" x2="967.70" y2="1011.66" stroke-width="1.9" />
<line x1="146.60" y1="1029.37" x2="159.80" y2="1029.37" stroke-width="1.9" />
<line x1="974.80" y1="1029.37" x2="961.60" y2="1029.37" stroke-width="1.9" />
<line x1="146.60" y1="1047.08" x2="153.70" y2="1047.08" stroke-width="1.9" />
<line x1="974.80" y1="1047.08" x2="967.70" y2="1047.08" stroke-width="1.9" />
<line x1="146.60" y1="1064.80" x2="153.70" y2="1064.80" stroke-width="1.9" />
<line x1="974.80" y1="1064.80" x2="967.70" y2="1064.80" stroke-width="1.9" />
<line x1="146.60" y1="1082.51" x2="153.70" y2="1082.51" stroke-width="1.9" />
<line x1="974.80" y1="1082.51" x2="967.70" y2="1082.51" stroke-width="1.9" />
<line x1="146.60" y1="1100.23" x2="153.70" y2="1100.23" stroke-width="1.9" />
<line x1="974.80" y1="1100.23" x2="967.70" y2="1100.23" stroke-width="1.9" />
<line x1="146.60" y1="1117.94" x2="159.80" y2="1117.94" stroke-width="1.9" />
<line x1="974.80" y1="1117.94" x2="961.60" y2="1117.94" stroke-width="1.9" />
<line x1="146.60" y1="1135.65" x2="153.70" y2="1135.65" stroke-width="1.9" />
<line x1="974.80" y1="1135.65" x2="967.70" y2="1135.65" stroke-width="1.9" />
<line x1="146.60" y1="1153.37" x2="153.70" y2="1153.37" stroke-width="1.9" />
<line x1="974.80" y1="1153.37" x2="967.70" y2="1153.37" stroke-width="1.9" />
<line x1="146.60" y1="1171.08" x2="153.70" y2="1171.08" stroke-width="1.9" />
<line x1="974.80" y1="1171.08" x2="967.70" y2="1171.08" stroke-width="1.9" />
<line x1="146.60" y1="1188.80" x2="153.70" y2="1188.80" stroke-width="1.9" />
<line x1="974.80" y1="1188.80" x2="967.70" y2="1188.80" stroke-width="1.9" />
<line x1="146.60" y1="1206.51" x2="159.80" y2="1206.51" stroke-width="1.9" />
<line x1="974.80" y1="1206.51" x2="961.60" y2="1206.51" stroke-width="1.9" />
<line x1="146.60" y1="1224.22" x2="153.70" y2="1224.22" stroke-width="1.9" />
<line x1="974.80" y1="1224.22" x2="967.70" y2="1224.22" stroke-width="1.9" />
<line x1="146.60" y1="1059.40" x2="974.80" y2="1059.40" stroke-width="2.0" stroke-dasharray="4.3 13.034" stroke-dashoffset="1.0"/>
<path d="M146.6,1099.8 L150.7,1102.9 L154.9,1105.9 L159.0,1108.7 L163.2,1111.2 L167.3,1113.6 L171.4,1115.8 L175.6,1117.7 L179.7,1119.4 L183.9,1120.9 L188.0,1122.1 L192.2,1123.1 L196.3,1123.9 L200.4,1124.3 L204.6,1124.6 L208.7,1124.5 L212.9,1124.2 L217.0,1123.7 L221.1,1122.9 L225.3,1121.8 L229.4,1120.6 L233.6,1119.0 L237.7,1117.2 L241.8,1115.2 L246.0,1113.0 L250.1,1110.6 L254.3,1108.0 L258.4,1105.1 L262.5,1102.1 L266.7,1099.0 L270.8,1095.6 L275.0,1092.2 L279.1,1088.6 L283.3,1084.8 L287.4,1081.0 L291.5,1077.1 L295.7,1073.2 L299.8,1069.1 L304.0,1065.1 L308.1,1061.0 L312.2,1056.9 L316.4,1052.8 L320.5,1048.8 L324.7,1044.8 L328.8,1040.8 L332.9,1036.9 L337.1,1033.1 L341.2,1029.5 L345.4,1025.9 L349.5,1022.5 L353.6,1019.2 L357.8,1016.0 L361.9,1013.1 L366.1,1010.3 L370.2,1007.7 L374.4,1005.3 L378.5,1003.2 L382.6,1001.2 L386.8,999.5 L390.9,998.1 L395.1,996.8 L399.2,995.8 L403.3,995.1 L407.5,994.6 L411.6,994.4 L415.8,994.4 L419.9,994.7 L424.0,995.3 L428.2,996.1 L432.3,997.1 L436.5,998.4 L440.6,1000.0 L444.8,1001.7 L448.9,1003.7 L453.0,1005.9 L457.2,1008.4 L461.3,1011.0 L465.5,1013.8 L469.6,1016.8 L473.7,1020.0 L477.9,1023.3 L482.0,1026.8 L486.2,1030.4 L490.3,1034.1 L494.4,1037.9 L498.6,1041.8 L502.7,1045.8 L506.9,1049.8 L511.0,1053.9 L515.1,1058.0 L519.3,1062.1 L523.4,1066.1 L527.6,1070.2 L531.7,1074.2 L535.9,1078.2 L540.0,1082.0 L544.1,1085.8 L548.3,1089.5 L552.4,1093.1 L556.6,1096.5 L560.7,1099.8 L564.8,1102.9 L569.0,1105.9 L573.1,1108.7 L577.3,1111.2 L581.4,1113.6 L585.5,1115.8 L589.7,1117.7 L593.8,1119.4 L598.0,1120.9 L602.1,1122.1 L606.3,1123.1 L610.4,1123.9 L614.5,1124.3 L618.7,1124.6 L622.8,1124.5 L627.0,1124.2 L631.1,1123.7 L635.2,1122.9 L639.4,1121.8 L643.5,1120.6 L647.7,1119.0 L651.8,1117.2 L655.9,1115.2 L660.1,1113.0 L664.2,1110.6 L668.4,1108.0 L672.5,1105.1 L676.6,1102.1 L680.8,1099.0 L684.9,1095.6 L689.1,1092.2 L693.2,1088.6 L697.4,1084.8 L701.5,1081.0 L705.6,1077.1 L709.8,1073.2 L713.9,1069.1 L718.1,1065.1 L722.2,1061.0 L726.3,1056.9 L730.5,1052.8 L734.6,1048.8 L738.8,1044.8 L742.9,1040.8 L747.0,1036.9 L751.2,1033.1 L755.3,1029.5 L759.5,1025.9 L763.6,1022.5 L767.8,1019.2 L771.9,1016.0 L776.0,1013.1 L780.2,1010.3 L784.3,1007.7 L788.5,1005.3 L792.6,1003.2 L796.7,1001.2 L800.9,999.5 L805.0,998.1 L809.2,996.8 L813.3,995.8 L817.4,995.1 L821.6,994.6 L825.7,994.4 L829.9,994.4 L834.0,994.7 L838.1,995.3 L842.3,996.1 L846.4,997.1 L850.6,998.4 L854.7,1000.0 L858.9,1001.7 L863.0,1003.7 L867.1,1005.9 L871.3,1008.4 L875.4,1011.0 L879.6,1013.8 L883.7,1016.8 L887.8,1020.0 L892.0,1023.3 L896.1,1026.8 L900.3,1030.4 L904.4,1034.1 L908.5,1037.9 L912.7,1041.8 L916.8,1045.8 L921.0,1049.8 L925.1,1053.9 L929.2,1058.0 L933.4,1062.1 L937.5,1066.1 L941.7,1070.2 L945.8,1074.2 L950.0,1078.2 L954.1,1082.0 L958.2,1085.8 L962.4,1089.5 L966.5,1093.1 L970.7,1096.5 L974.8,1099.8" fill="none" stroke-width="1.9" stroke-linejoin="round"/>
</g>
<g fill="#231f20" stroke="#231f20" stroke-linejoin="round">
<text y="38.6" font-size="25.6" font-family="'DejaVu Serif', 'Liberation Serif', serif" stroke-width="0.45" aria-label="3.48"><tspan x="69.8" letter-spacing="0.73">3.48</tspan></text>
<text y="151.0" font-size="25.6" font-family="'DejaVu Serif', 'Liberation Serif', serif" stroke-width="0.45" aria-label="3.49"><tspan x="69.8" letter-spacing="0.73">3.49</tspan></text>
<text y="263.4" font-size="25.6" font-family="'DejaVu Serif', 'Liberation Serif', serif" stroke-width="0.45" aria-label="3.5"><tspan x="85.9" letter-spacing="1.05">3.5</tspan></text>
<text y="43.2" font-size="23.5" font-family="'DejaVu Serif', 'Liberation Serif', serif" stroke-width="0.55" aria-label="Season 2013"><tspan x="179.1" letter-spacing="0.34">Season</tspan> <tspan x="278.7" letter-spacing="-0.10">2013</tspan></text>
<text y="43.6" font-size="23.5" font-family="'DejaVu Serif', 'Liberation Serif', serif" stroke-width="0.55" aria-label="Mean = 3.4937"><tspan x="467.2" letter-spacing="-1.40">Mean</tspan> <tspan x="542.5" dy="0.8" stroke-width="0.15">=</tspan> <tspan x="571.5" dy="-0.8" letter-spacing="0.18">3.4937</tspan></text>
<text y="42.4" font-size="24.4" font-family="'Liberation Sans', sans-serif" stroke-width="0.3" aria-label="σ = 0 .0055"><tspan x="789.8" font-style="italic" font-size="23.2">σ</tspan> <tspan x="818.3" dy="1.6" font-size="23.5" font-family="'DejaVu Serif', serif" stroke-width="0.15">=</tspan> <tspan x="848.9" dy="-1.6">0</tspan> <tspan x="875.0" letter-spacing="1.22">.0055</tspan></text>
<text y="376.6" font-size="25.6" font-family="'DejaVu Serif', 'Liberation Serif', serif" stroke-width="0.45" aria-label="56350"><tspan x="271.3" letter-spacing="0.50">56350</tspan></text>
<text y="376.6" font-size="25.6" font-family="'DejaVu Serif', 'Liberation Serif', serif" stroke-width="0.45" aria-label="56400"><tspan x="529.6" letter-spacing="0.50">56400</tspan></text>
<text y="376.6" font-size="25.6" font-family="'DejaVu Serif', 'Liberation Serif', serif" stroke-width="0.45" aria-label="56450"><tspan x="787.9" letter-spacing="0.50">56450</tspan></text>
<text y="414.8" font-size="30.0" font-family="'DejaVu Serif', 'Liberation Serif', serif" stroke-width="0.7" aria-label="Hel. Julian Day − 2,400,000"><tspan x="326.4" letter-spacing="0.73">Hel.</tspan> <tspan x="409.7" letter-spacing="1.06">Julian</tspan> <tspan x="519.9" letter-spacing="-0.20">Day</tspan> <tspan x="596.2">−</tspan> <tspan x="637.2" letter-spacing="0.46">2,400,000</tspan></text>
<text y="0.0" font-size="30.0" font-family="'DejaVu Serif', 'Liberation Serif', serif" stroke-width="0.7" transform="translate(26.8 0) rotate(-90)" aria-label="Δ(b+y)/2"><tspan x="-249.1" font-size="31" font-family="'DejaVu Serif Condensed', serif">Δ</tspan><tspan x="-230.2" dy="2.0" font-size="37" stroke-width="0.35">(</tspan><tspan x="-216.4" dy="-2.0">b</tspan><tspan x="-197.7" dy="-1.8" font-size="24.5">+</tspan><tspan x="-169.8" dy="1.8">y</tspan><tspan x="-152.4" dy="2.0" font-size="37" stroke-width="0.35">)</tspan><tspan x="-135.2" dy="0.7" font-size="44" font-family="'DejaVu Sans Light', sans-serif" rotate="10" stroke-width="0.4">/</tspan><tspan x="-114.9" dy="-2.7">2</tspan></text>
<text y="781.7" font-size="25.6" font-family="'DejaVu Serif', 'Liberation Serif', serif" stroke-width="0.45" aria-label="0.0"><tspan x="85.8" letter-spacing="0.70">0.0</tspan></text>
<text y="724.6" font-size="25.6" font-family="'DejaVu Serif', 'Liberation Serif', serif" stroke-width="0.45" aria-label="0.2"><tspan x="85.8" letter-spacing="1.20">0.2</tspan></text>
<text y="667.5" font-size="25.6" font-family="'DejaVu Serif', 'Liberation Serif', serif" stroke-width="0.45" aria-label="0.4"><tspan x="85.8" letter-spacing="0.20">0.4</tspan></text>
<text y="610.5" font-size="25.6" font-family="'DejaVu Serif', 'Liberation Serif', serif" stroke-width="0.45" aria-label="0.6"><tspan x="85.8" letter-spacing="0.70">0.6</tspan></text>
<text y="553.4" font-size="25.6" font-family="'DejaVu Serif', 'Liberation Serif', serif" stroke-width="0.45" aria-label="0.8"><tspan x="85.8" letter-spacing="0.70">0.8</tspan></text>
<text y="496.3" font-size="25.6" font-family="'DejaVu Serif', 'Liberation Serif', serif" stroke-width="0.45" aria-label="1.0"><tspan x="86.1" letter-spacing="0.55">1.0</tspan></text>
<text y="486.1" font-size="23.5" font-family="'DejaVu Serif', 'Liberation Serif', serif" stroke-width="0.55" aria-label="f = 0.0109 +/− 0.0003 c/d"><tspan x="178.9" font-weight="bold" font-size="22.5" stroke-width="0.2">f</tspan> <tspan x="202.4" dy="0.8" stroke-width="0.15">=</tspan> <tspan x="231.1" dy="-0.8" letter-spacing="-0.24">0.0109</tspan> <tspan x="325.1">+</tspan><tspan x="344.6" dy="1.5" font-size="33" font-family="'DejaVu Sans Light', sans-serif" rotate="15" stroke-width="0.5">/</tspan><tspan x="360.4" dy="-1.5">−</tspan> <tspan x="390.7" letter-spacing="-0.46">0.0003</tspan> <tspan x="483.6">c</tspan><tspan x="497.5" dy="1.5" font-size="33" font-family="'DejaVu Sans Light', sans-serif" rotate="15" stroke-width="0.5">/</tspan><tspan x="513.9" dy="-1.5">d</tspan></text>
<text y="519.7" font-size="23.5" font-family="'DejaVu Serif', 'Liberation Serif', serif" stroke-width="0.55" aria-label="P = 91.4 +/− 2.9 days"><tspan x="181.4">P</tspan> <tspan x="208.4" dy="0.8" stroke-width="0.15">=</tspan> <tspan x="238.8" dy="-0.8" letter-spacing="-0.03">91.4</tspan> <tspan x="302.4">+</tspan><tspan x="321.9" dy="1.5" font-size="33" font-family="'DejaVu Sans Light', sans-serif" rotate="15" stroke-width="0.5">/</tspan><tspan x="337.6" dy="-1.5">−</tspan> <tspan x="379.8" letter-spacing="-0.15">2.9</tspan> <tspan x="429.7" letter-spacing="0.50">days</tspan></text>
<text y="819.6" font-size="25.6" font-family="'DejaVu Serif', 'Liberation Serif', serif" stroke-width="0.45" aria-label="0.01"><tspan x="181.2" letter-spacing="0.27">0.01</tspan></text>
<text y="819.6" font-size="25.6" font-family="'DejaVu Serif', 'Liberation Serif', serif" stroke-width="0.45" aria-label="0.02"><tspan x="308.2" letter-spacing="0.63">0.02</tspan></text>
<text y="819.6" font-size="25.6" font-family="'DejaVu Serif', 'Liberation Serif', serif" stroke-width="0.45" aria-label="0.03"><tspan x="435.7" letter-spacing="0.63">0.03</tspan></text>
<text y="819.6" font-size="25.6" font-family="'DejaVu Serif', 'Liberation Serif', serif" stroke-width="0.45" aria-label="0.04"><tspan x="563.1" letter-spacing="0.30">0.04</tspan></text>
<text y="819.6" font-size="25.6" font-family="'DejaVu Serif', 'Liberation Serif', serif" stroke-width="0.45" aria-label="0.05"><tspan x="690.6" letter-spacing="0.63">0.05</tspan></text>
<text y="819.6" font-size="25.6" font-family="'DejaVu Serif', 'Liberation Serif', serif" stroke-width="0.45" aria-label="0.06"><tspan x="818.0" letter-spacing="0.63">0.06</tspan></text>
<text y="819.6" font-size="25.6" font-family="'DejaVu Serif', 'Liberation Serif', serif" stroke-width="0.45" aria-label="0.07"><tspan x="945.5" letter-spacing="0.63">0.07</tspan></text>
<text y="857.5" font-size="30.0" font-family="'DejaVu Serif', 'Liberation Serif', serif" stroke-width="0.7" aria-label="Trial Frequency (c/d)"><tspan x="376.9" letter-spacing="0.88">Trial</tspan> <tspan x="467.4" letter-spacing="1.25">Frequency</tspan> <tspan x="657.0" dy="2.0" font-size="37" stroke-width="0.35">(</tspan><tspan x="672.7" dy="-2.0">c</tspan><tspan x="691.0" dy="2.7" font-size="44" font-family="'DejaVu Sans Light', sans-serif" rotate="10" stroke-width="0.4">/</tspan><tspan x="712.2" dy="-2.7">d</tspan><tspan x="731.0" dy="2.0" font-size="37" stroke-width="0.35">)</tspan></text>
<text y="0.0" font-size="30.0" font-family="'DejaVu Serif', 'Liberation Serif', serif" stroke-width="0.7" transform="translate(52.3 0) rotate(-90)" aria-label="Reduction Factor"><tspan x="-762.8" letter-spacing="1.65">Reduction</tspan> <tspan x="-578.9" letter-spacing="2.00">Factor</tspan></text>
<text y="949.8" font-size="25.6" font-family="'DejaVu Serif', 'Liberation Serif', serif" stroke-width="0.45" aria-label="3.48"><tspan x="69.9" letter-spacing="0.47">3.48</tspan></text>
<text y="1038.4" font-size="25.6" font-family="'DejaVu Serif', 'Liberation Serif', serif" stroke-width="0.45" aria-label="3.49"><tspan x="69.9" letter-spacing="0.47">3.49</tspan></text>
<text y="1126.9" font-size="25.6" font-family="'DejaVu Serif', 'Liberation Serif', serif" stroke-width="0.45" aria-label="3.5"><tspan x="86.0" letter-spacing="0.65">3.5</tspan></text>
<text y="1215.5" font-size="25.6" font-family="'DejaVu Serif', 'Liberation Serif', serif" stroke-width="0.45" aria-label="3.51"><tspan x="69.9" letter-spacing="0.90">3.51</tspan></text>
<text y="929.6" font-size="23.5" font-family="'DejaVu Serif', 'Liberation Serif', serif" stroke-width="0.55" aria-label="Mean = 3.4934"><tspan x="173.0" letter-spacing="-1.80">Mean</tspan> <tspan x="248.3" dy="0.8" stroke-width="0.15">=</tspan> <tspan x="277.8" dy="-0.8" letter-spacing="-0.08">3.4934</tspan></text>
<text y="929.5" font-size="23.5" font-family="'DejaVu Serif', 'Liberation Serif', serif" stroke-width="0.55" aria-label="Period = 91.4"><tspan x="773.3" letter-spacing="0.86">Period</tspan> <tspan x="866.1" dy="0.8" stroke-width="0.15">=</tspan> <tspan x="897.3" dy="-0.8" letter-spacing="-0.07">91.4</tspan></text>
<text y="1203.8" font-size="23.5" font-family="'DejaVu Serif', 'Liberation Serif', serif" stroke-width="0.55" aria-label="Full Amp = 0.0147 +/− 0.0009"><tspan x="173.1" letter-spacing="0.07">Full</tspan> <tspan x="232.5" letter-spacing="-0.60">Amp</tspan> <tspan x="298.3" dy="0.8" stroke-width="0.15">=</tspan> <tspan x="328.0" dy="-0.8" letter-spacing="-0.18">0.0147</tspan> <tspan x="421.6">+</tspan><tspan x="441.0" dy="1.5" font-size="33" font-family="'DejaVu Sans Light', sans-serif" rotate="15" stroke-width="0.5">/</tspan><tspan x="456.9" dy="-1.5">−</tspan> <tspan x="486.5" letter-spacing="-0.26">0.0009</tspan></text>
<text y="1203.7" font-size="23.5" font-family="'DejaVu Serif', 'Liberation Serif', serif" stroke-width="0.55" aria-label="rms = 0.0029"><tspan x="775.3" letter-spacing="2.50">rms</tspan> <tspan x="836.7" dy="0.8" stroke-width="0.15">=</tspan> <tspan x="866.4" dy="-0.8" letter-spacing="0.14">0.0029</tspan></text>
<text y="1271.1" font-size="25.6" font-family="'DejaVu Serif', 'Liberation Serif', serif" stroke-width="0.45" aria-label="0.0"><tspan x="125.3" letter-spacing="0.80">0.0</tspan></text>
<text y="1271.1" font-size="25.6" font-family="'DejaVu Serif', 'Liberation Serif', serif" stroke-width="0.45" aria-label="0.2"><tspan x="208.1" letter-spacing="1.30">0.2</tspan></text>
<text y="1271.1" font-size="25.6" font-family="'DejaVu Serif', 'Liberation Serif', serif" stroke-width="0.45" aria-label="0.4"><tspan x="290.9" letter-spacing="0.30">0.4</tspan></text>
<text y="1271.1" font-size="25.6" font-family="'DejaVu Serif', 'Liberation Serif', serif" stroke-width="0.45" aria-label="0.6"><tspan x="373.8" letter-spacing="0.80">0.6</tspan></text>
<text y="1271.1" font-size="25.6" font-family="'DejaVu Serif', 'Liberation Serif', serif" stroke-width="0.45" aria-label="0.8"><tspan x="456.6" letter-spacing="0.80">0.8</tspan></text>
<text y="1271.1" font-size="25.6" font-family="'DejaVu Serif', 'Liberation Serif', serif" stroke-width="0.45" aria-label="0.0"><tspan x="539.4" letter-spacing="0.80">0.0</tspan></text>
<text y="1271.1" font-size="25.6" font-family="'DejaVu Serif', 'Liberation Serif', serif" stroke-width="0.45" aria-label="0.2"><tspan x="622.2" letter-spacing="1.30">0.2</tspan></text>
<text y="1271.1" font-size="25.6" font-family="'DejaVu Serif', 'Liberation Serif', serif" stroke-width="0.45" aria-label="0.4"><tspan x="705.0" letter-spacing="0.30">0.4</tspan></text>
<text y="1271.1" font-size="25.6" font-family="'DejaVu Serif', 'Liberation Serif', serif" stroke-width="0.45" aria-label="0.6"><tspan x="787.9" letter-spacing="0.80">0.6</tspan></text>
<text y="1271.1" font-size="25.6" font-family="'DejaVu Serif', 'Liberation Serif', serif" stroke-width="0.45" aria-label="0.8"><tspan x="870.7" letter-spacing="0.80">0.8</tspan></text>
<text y="1271.1" font-size="25.6" font-family="'DejaVu Serif', 'Liberation Serif', serif" stroke-width="0.45" aria-label="0.0"><tspan x="953.5" letter-spacing="0.80">0.0</tspan></text>
<text y="1307.7" font-size="30.0" font-family="'DejaVu Serif', 'Liberation Serif', serif" stroke-width="0.7" aria-label="Photometric Phase"><tspan x="399.6" letter-spacing="2.11">Photometric</tspan> <tspan x="624.1" letter-spacing="1.62">Phase</tspan></text>
<text y="0.0" font-size="30.0" font-family="'DejaVu Serif', 'Liberation Serif', serif" stroke-width="0.7" transform="translate(26.9 0) rotate(-90)" aria-label="Δ(b+y)/2"><tspan x="-1135.4" font-size="31" font-family="'DejaVu Serif Condensed', serif">Δ</tspan><tspan x="-1116.4" dy="2.0" font-size="37" stroke-width="0.35">(</tspan><tspan x="-1102.8" dy="-2.0">b</tspan><tspan x="-1084.0" dy="-1.8" font-size="24.5">+</tspan><tspan x="-1056.0" dy="1.8">y</tspan><tspan x="-1038.7" dy="2.0" font-size="37" stroke-width="0.35">)</tspan><tspan x="-1021.5" dy="0.7" font-size="44" font-family="'DejaVu Sans Light', sans-serif" rotate="10" stroke-width="0.4">/</tspan><tspan x="-1001.2" dy="-2.7">2</tspan></text>
</g>
</svg>
</body></html>
